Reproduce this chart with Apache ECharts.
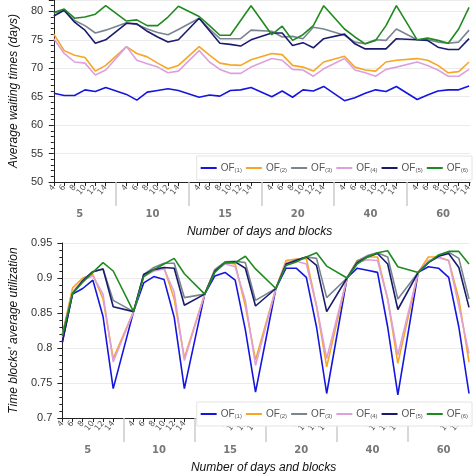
<!DOCTYPE html>
<html><head><meta charset="utf-8">
<script src="https://cdn.jsdelivr.net/npm/echarts@6/dist/echarts.min.js"></script>
<style>html,body{margin:0;padding:0;background:#fff}#c{width:474px;height:475px}</style>
</head><body><div id="c"></div>
<script>
const groups = ['5','10','15','20','40','60'];
const days = ['4','6','8','10','12','14'];
const seriesNames = ['OF1','OF2','OF3','OF4','OF5','OF6'];
const seriesSubs = ['(1)','(2)','(3)','(4)','(5)','(6)'];
const colors = ['#1515e0','#f5a623','#7a8591','#dda0dd','#1a1a6e','#1f8a1f'];

// Average waiting times (days)
const wait1 = [65.6,65.2,65.2,66.2,65.9,66.6, 65.4,64.4,65.8,66.1,66.4,66.1, 64.9,65.3,65.1,66.1,66.2,66.6, 65.0,66.0,64.9,66.2,66.0,66.8, 64.3,64.8,65.6,66.2,65.9,66.8, 64.5,65.3,66.0,66.2,66.2,66.9];
const wait2 = [76.0,73.1,72.3,71.9,69.5,70.5, 73.8,72.6,72.0,70.9,69.9,70.5, 73.8,72.3,70.9,70.6,70.5,71.5, 72.6,72.4,70.5,70.2,69.5,71.1, 72.1,70.2,69.7,69.5,71.1,71.4, 71.7,71.4,70.5,69.2,69.4,71.1];
const wait3 = [79.7,80.1,78.4,77.5,76.2,76.7, 78.0,77.7,76.9,76.3,75.9,76.8, 78.8,76.9,75.2,75.2,75.2,76.7, 76.5,75.5,75.6,75.2,77.2,76.9, 75.8,74.6,74.3,75.0,74.9,76.9, 75.0,75.0,74.6,74.4,74.6,76.7];
const wait4 = [75.2,72.6,71.1,70.9,68.8,69.7, 73.8,71.4,70.8,70.2,69.2,69.5, 73.1,71.1,69.8,69.1,69.1,70.2, 71.7,71.4,69.8,69.7,68.6,69.9, 71.7,69.7,69.2,68.6,69.8,70.2, 71.1,70.5,69.7,68.6,68.6,69.8];
const wait5 = [79.2,80.2,78.1,76.7,74.4,75.0, 77.9,77.8,76.5,75.5,74.6,75.0, 78.8,76.6,74.4,74.2,73.9,75.0, 76.2,76.2,74.0,74.5,73.6,75.2, 76.0,74.3,73.4,73.4,73.4,75.2, 75.0,74.9,73.7,73.3,73.3,75.2];
const wait6 = [79.8,80.4,78.8,79.0,79.5,81.0, 78.3,78.5,77.5,77.5,79.0,80.9, 79.1,77.5,75.8,75.8,78.4,81.0, 75.9,77.4,74.9,75.9,77.5,81.0, 76.9,75.5,74.3,74.9,77.5,81.0, 75.0,75.3,74.9,74.4,76.9,80.7];

// Time blocks' average utilization
const util1 = [.809,.877,.885,.897,.845,.742, .852,.893,.902,.898,.844,.742, .877,.903,.908,.897,.826,.737, .885,.914,.914,.901,.830,.735, .900,.914,.911,.908,.830,.733, .908,.916,.914,.901,.830,.735];
const util2 = [.819,.886,.900,.905,.870,.785, .852,.904,.912,.915,.870,.786, .877,.912,.922,.920,.860,.783, .885,.925,.927,.928,.860,.773, .900,.925,.930,.930,.870,.778, .908,.930,.930,.925,.870,.780];
const util3 = [.820,.878,.897,.909,.913,.868, .852,.905,.915,.921,.921,.872, .877,.912,.923,.924,.922,.868, .885,.920,.926,.930,.928,.872, .900,.924,.932,.936,.930,.870, .908,.922,.932,.937,.928,.870];
const util4 = [.815,.880,.897,.903,.877,.780, .852,.902,.910,.913,.880,.782, .877,.910,.920,.916,.868,.775, .885,.922,.924,.920,.860,.785, .900,.922,.926,.925,.870,.790, .908,.925,.929,.925,.860,.792];
const util5 = [.808,.878,.896,.909,.913,.859, .852,.905,.912,.915,.914,.861, .877,.910,.922,.923,.914,.860, .885,.920,.925,.930,.918,.852, .900,.922,.930,.935,.920,.855, .908,.922,.931,.935,.915,.858];
const util6 = [.817,.878,.894,.908,.922,.910, .852,.902,.912,.920,.928,.906, .877,.908,.922,.922,.931,.913, .885,.918,.923,.930,.936,.917, .900,.920,.930,.936,.939,.916, .908,.922,.933,.938,.938,.920];

const waits = [wait1,wait2,wait3,wait4,wait5,wait6];
const utils = [util1,util2,util3,util4,util5,util6];

const pos = [], posLabel = {};
groups.forEach((g,k)=>days.forEach((d,j)=>{const p=7*k+j; pos.push(p); posLabel[p]=d;}));
const seps = groups.slice(1).map((g,k)=>7*k+6);
const centers = groups.map((g,k)=>7*k+2.5);
const centerLabel = {}; centers.forEach((c,k)=>centerLabel[c]=groups[k]);

const chart = echarts.init(document.getElementById('c'));
const axisCol = '#222';
function xAxes(gi, min, max){
  return [{
    type:'value', gridIndex:gi, min, max,
    axisLine:{show:true,onZero:false,lineStyle:{color:axisCol}},
    splitLine:{show:false},
    axisTick:{show:true,customValues:pos,length:4,lineStyle:{color:axisCol}},
    axisLabel:{customValues:pos,formatter:v=>posLabel[Math.round(v)]||'',rotate:50,fontSize:8,color:'#555',margin:4,hideOverlap:false,fontFamily:'DejaVu Sans'},
    name:'Number of days and blocks', nameLocation:'middle', nameGap:44,
    nameTextStyle:{fontStyle:'italic',fontSize:12,color:'#111',fontFamily:'Liberation Sans'}
  },{
    type:'value', gridIndex:gi, min, max, position:'bottom',
    axisLine:{show:false},
    splitLine:{show:false},
    axisTick:{show:true,customValues:seps,length:24,inside:false,lineStyle:{color:'#ccc',width:1.5}},
    axisLabel:{customValues:centers,formatter:v=>centerLabel[v]||'',fontSize:10,color:'#777',margin:27,fontWeight:'bold',fontFamily:'DejaVu Sans'}
  }];
}
const legendBase = {
  data:seriesNames, orient:'horizontal', itemWidth:16, itemHeight:2, itemGap:4,
  icon:'rect', backgroundColor:'#fff', borderColor:'#e4e4e4', borderWidth:1, padding:[7,4,7,4],
  formatter:n=>'OF{s|'+seriesSubs[seriesNames.indexOf(n)]+'}',
  textStyle:{fontSize:10,color:'#555',padding:[0,0,0,-1],rich:{s:{fontSize:6,color:'#555',verticalAlign:'bottom',padding:[4,0,0,0]}}}
};
const series = [];
seriesNames.forEach((n,i)=>{
  series.push({name:n,type:'line',xAxisIndex:0,yAxisIndex:0,data:pos.map((p,m)=>[p,waits[i][m]]),
    showSymbol:false,lineStyle:{width:1.6,color:colors[i]},itemStyle:{color:colors[i]},z:2});
  series.push({name:n,type:'line',xAxisIndex:2,yAxisIndex:1,data:pos.map((p,m)=>[p,utils[i][m]]),
    showSymbol:false,lineStyle:{width:1.6,color:colors[i]},itemStyle:{color:colors[i]},z:2});
});
chart.setOption({
  animation:false,
  grid:[{left:32,right:3,top:0,height:182},{left:40,right:1,top:243,height:183}],
  legend:[Object.assign({right:2,top:156},legendBase),Object.assign({right:2,top:402},legendBase)],
  xAxis:[...xAxes(0,-0.45,40.1),...xAxes(1,-0.4,40)],
  yAxis:[{
    type:'value',gridIndex:0,min:50,max:82,interval:5,
    axisLine:{show:true,lineStyle:{color:axisCol}},axisTick:{show:true,lineStyle:{color:axisCol}},
    minorTick:{show:true,splitNumber:5,length:3,lineStyle:{color:axisCol}},
    axisLabel:{fontSize:11,color:'#333',showMaxLabel:false,showMinLabel:true,hideOverlap:false,margin:6},
    splitLine:{lineStyle:{color:'#ebebeb'}},
    name:'Average waiting times (days)',nameLocation:'middle',nameGap:22,
    nameTextStyle:{fontStyle:'italic',fontSize:12,color:'#111',fontFamily:'Liberation Sans'}
  },{
    type:'value',gridIndex:1,min:0.7,max:0.95,interval:0.05,
    axisLine:{show:true,lineStyle:{color:axisCol}},axisTick:{show:true,lineStyle:{color:axisCol}},
    minorTick:{show:true,splitNumber:5,length:3,lineStyle:{color:axisCol}},
    axisLabel:{fontSize:11,color:'#333',margin:6,showMinLabel:true,hideOverlap:false,formatter:v=>String(+v.toFixed(2))},
    splitLine:{lineStyle:{color:'#ebebeb'}},
    name:"Time blocks' average utilization",nameLocation:'middle',nameGap:30,
    nameTextStyle:{fontStyle:'italic',fontSize:12,color:'#111',fontFamily:'Liberation Sans'}
  }],
  series
});
</script></body></html>
